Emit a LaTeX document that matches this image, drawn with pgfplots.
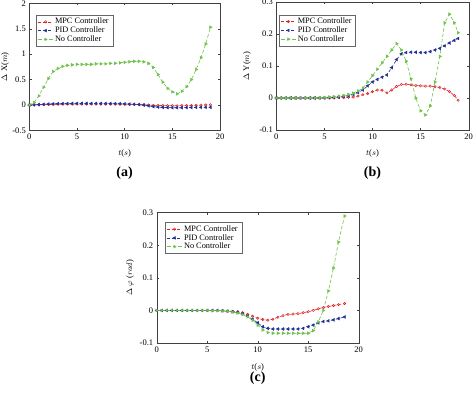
\documentclass[border=0pt]{standalone}
\usepackage{pgfplots}
\pgfplotsset{compat=1.18}
\usepackage{pgfplotstable}
\usepackage{fontspec}
\setmainfont{Liberation Serif}

\definecolor{cMPC}{RGB}{225,35,40}
\definecolor{cPID}{RGB}{35,50,150}
\definecolor{cNC}{RGB}{110,195,75}

\pgfplotstableread{
t mpc pid nc
0 0 0 0
0.5 0.002 0.004 0.05
1 0.005 0.01 0.18
1.5 0.008 0.015 0.35
2 0.01 0.02 0.52
2.5 0.013 0.024 0.66
3 0.015 0.027 0.72
3.5 0.017 0.029 0.76
4 0.018 0.03 0.78
4.5 0.019 0.031 0.79
5 0.02 0.032 0.80
5.5 0.02 0.032 0.80
6 0.02 0.032 0.80
6.5 0.02 0.032 0.80
7 0.02 0.032 0.81
7.5 0.02 0.031 0.81
8 0.019 0.03 0.81
8.5 0.018 0.03 0.82
9 0.017 0.029 0.82
9.5 0.016 0.027 0.83
10 0.015 0.024 0.84
10.5 0.013 0.02 0.85
11 0.011 0.016 0.86
11.5 0.008 0.01 0.86
12 0.005 0.0 0.85
12.5 0.0 -0.015 0.82
13 -0.005 -0.03 0.74
13.5 -0.008 -0.04 0.60
14 -0.01 -0.045 0.45
14.5 -0.012 -0.05 0.33
15 -0.013 -0.052 0.26
15.5 -0.013 -0.053 0.22
16 -0.012 -0.052 0.27
16.5 -0.01 -0.05 0.36
17 -0.008 -0.048 0.5
17.5 -0.005 -0.046 0.7
18 -0.002 -0.045 0.93
18.5 0.002 -0.045 1.2
19 0.005 -0.045 1.53
}\dataA

\pgfplotstableread{
t mpc pid nc
0 0 0 0
0.5 0 0 0
1 0 0 0
1.5 0 0 0
2 0 0 0
2.5 0 0 0
3 0 0 0
3.5 0 0 0
4 0 0 0.001
4.5 0 0 0.001
5 0 0 0.002
5.5 0 0.001 0.003
6 0 0.002 0.004
6.5 0.001 0.003 0.006
7 0.001 0.005 0.008
7.5 0.002 0.007 0.011
8 0.003 0.011 0.015
8.5 0.006 0.017 0.022
9 0.01 0.025 0.031
9.5 0.014 0.038 0.05
10 0.02 0.05 0.07
10.5 0.025 0.058 0.09
11 0.024 0.065 0.11
11.5 0.016 0.072 0.13
12 0.025 0.095 0.15
12.5 0.036 0.12 0.17
13 0.042 0.138 0.15
13.5 0.043 0.142 0.115
14 0.041 0.143 0.06
14.5 0.039 0.143 0.0
15 0.038 0.142 -0.04
15.5 0.037 0.142 -0.053
16 0.037 0.145 -0.025
16.5 0.035 0.15 0.05
17 0.033 0.155 0.13
17.5 0.028 0.163 0.235
18 0.02 0.172 0.262
18.5 0.008 0.18 0.235
18.9 -0.007 0.186 0.204
}\dataB

\pgfplotstableread{
t mpc pid nc
0 0 0 0
0.5 0 0 0
1 0 0 0
1.5 0 0 0
2 0 0 0
2.5 0 0 0
3 0 0 0
3.5 0 0 0
4 0 0 0
4.5 0 0 0
5 0 0 0
5.5 0 0 -0.001
6 0 0 -0.001
6.5 -0.001 -0.001 -0.002
7 -0.002 -0.002 -0.003
7.5 -0.003 -0.004 -0.005
8 -0.004 -0.006 -0.008
8.5 -0.007 -0.01 -0.013
9 -0.012 -0.017 -0.02
9.5 -0.018 -0.027 -0.03
10 -0.024 -0.038 -0.045
10.5 -0.028 -0.05 -0.06
11 -0.03 -0.055 -0.068
11.5 -0.027 -0.057 -0.07
12 -0.021 -0.057 -0.07
12.5 -0.016 -0.057 -0.07
13 -0.012 -0.057 -0.07
13.5 -0.011 -0.057 -0.07
14 -0.01 -0.057 -0.07
14.5 -0.007 -0.055 -0.07
15 -0.004 -0.05 -0.07
15.5 0.0 -0.045 -0.062
16 0.005 -0.038 -0.035
16.5 0.009 -0.034 0.0
17 0.012 -0.032 0.06
17.5 0.015 -0.029 0.13
18 0.018 -0.025 0.21
18.6 0.021 -0.02 0.29
}\dataC

\pgfplotsset{
  panel/.style={
    scale only axis,
    xmin=0, xmax=20, xtick={0,5,10,15,20},
    tick align=inside, major tick length=2.2pt,
    axis line style={black!75, line width=0.4pt},
    every tick/.style={black!75, line width=0.4pt},
    /pgf/number format/assume math mode=true,
    ticklabel style={font=\fontsize{8.5}{9}\selectfont},
    label style={font=\fontsize{8.5}{9}\selectfont},
    legend style={font=\fontsize{8.3}{9}\selectfont, draw=black!60, fill=white,
      inner xsep=2pt, inner ysep=1pt, row sep=-2.5pt, cells={anchor=west}},
    legend image code/.code={
      \draw[mark repeat=2,mark phase=2] plot coordinates {(0cm,0cm) (0.25cm,0cm) (0.5cm,0cm)};},
    clip=false,
  },
  mpc/.style={cMPC, line width=0.6pt, dash pattern=on 3pt off 2pt, mark=o,
    mark size=1.2pt, mark options={solid, line width=0.5pt}},
  pid/.style={cPID, line width=0.6pt, dash pattern=on 3pt off 2pt, mark=triangle*,
    mark size=1.5pt, mark options={solid, rotate=90}},
  nc/.style={cNC, line width=0.6pt, dash pattern=on 3.5pt off 2pt, mark=triangle*,
    mark size=1.5pt, mark options={solid, rotate=-90}},
}

\begin{document}
\begin{tikzpicture}[x=1pt,y=1pt]
\path[use as bounding box] (0,0) rectangle (474,396);

% (a)
\begin{axis}[panel, at={(29.3pt,392.7pt)}, anchor=north west,
  width=190.7pt, height=127.2pt,
  ymin=-0.5, ymax=2, ytick={-0.5,0,0.5,1,1.5,2},
  ylabel={$\Delta$ X($m$)}, xlabel={$t$($s$)},
  ylabel style={at={(axis description cs:-0.127,0.5)}, anchor=center},
  xlabel style={at={(axis description cs:0.5,-0.177)}, anchor=center},
  legend style={at={(axis description cs:0.035,0.908)}, anchor=north west},
]
\addplot[mpc] table[x=t,y=mpc]{\dataA};
\addplot[pid] table[x=t,y=pid]{\dataA};
\addplot[nc] table[x=t,y=nc]{\dataA};
\legend{MPC Controller, PID Controller, No Controller}
\node[font=\bfseries\fontsize{14}{15}\selectfont] at (axis description cs:0.5,-0.335) {(a)};
\end{axis}

% (b)
\begin{axis}[panel, at={(276.3pt,394pt)}, anchor=north west,
  width=192.4pt, height=128pt,
  ymin=-0.1, ymax=0.3, ytick={-0.1,0,0.1,0.2,0.3},
  ylabel={$\Delta$ Y($m$)}, xlabel={$t$($s$)},
  ylabel style={at={(axis description cs:-0.152,0.5)}, anchor=center},
  xlabel style={at={(axis description cs:0.5,-0.18)}, anchor=center},
  legend style={at={(axis description cs:0.013,0.9)}, anchor=north west},
]
\addplot[mpc] table[x=t,y=mpc]{\dataB};
\addplot[pid] table[x=t,y=pid]{\dataB};
\addplot[nc] table[x=t,y=nc]{\dataB};
\legend{MPC Controller, PID Controller, No Controller}
\node[font=\bfseries\fontsize{14}{15}\selectfont] at (axis description cs:0.5,-0.338) {(b)};
\end{axis}

% (c)
\begin{axis}[panel, at={(156.7pt,183.3pt)}, anchor=north west,
  width=202pt, height=130.3pt,
  ymin=-0.1, ymax=0.3, ytick={-0.1,0,0.1,0.2,0.3},
  ylabel={$\Delta$ $\varphi$ ($rad$)}, xlabel={$t$($s$)},
  ylabel style={at={(axis description cs:-0.132,0.5)}, anchor=center},
  xlabel style={at={(axis description cs:0.5,-0.185)}, anchor=center},
  legend style={at={(axis description cs:0.041,0.926)}, anchor=north west},
]
\addplot[mpc] table[x=t,y=mpc]{\dataC};
\addplot[pid] table[x=t,y=pid]{\dataC};
\addplot[nc] table[x=t,y=nc]{\dataC};
\legend{MPC Controller, PID Controller, No Controller}
\node[font=\bfseries\fontsize{14}{15}\selectfont] at (axis description cs:0.5,-0.27) {(c)};
\end{axis}
\end{tikzpicture}
\end{document}
